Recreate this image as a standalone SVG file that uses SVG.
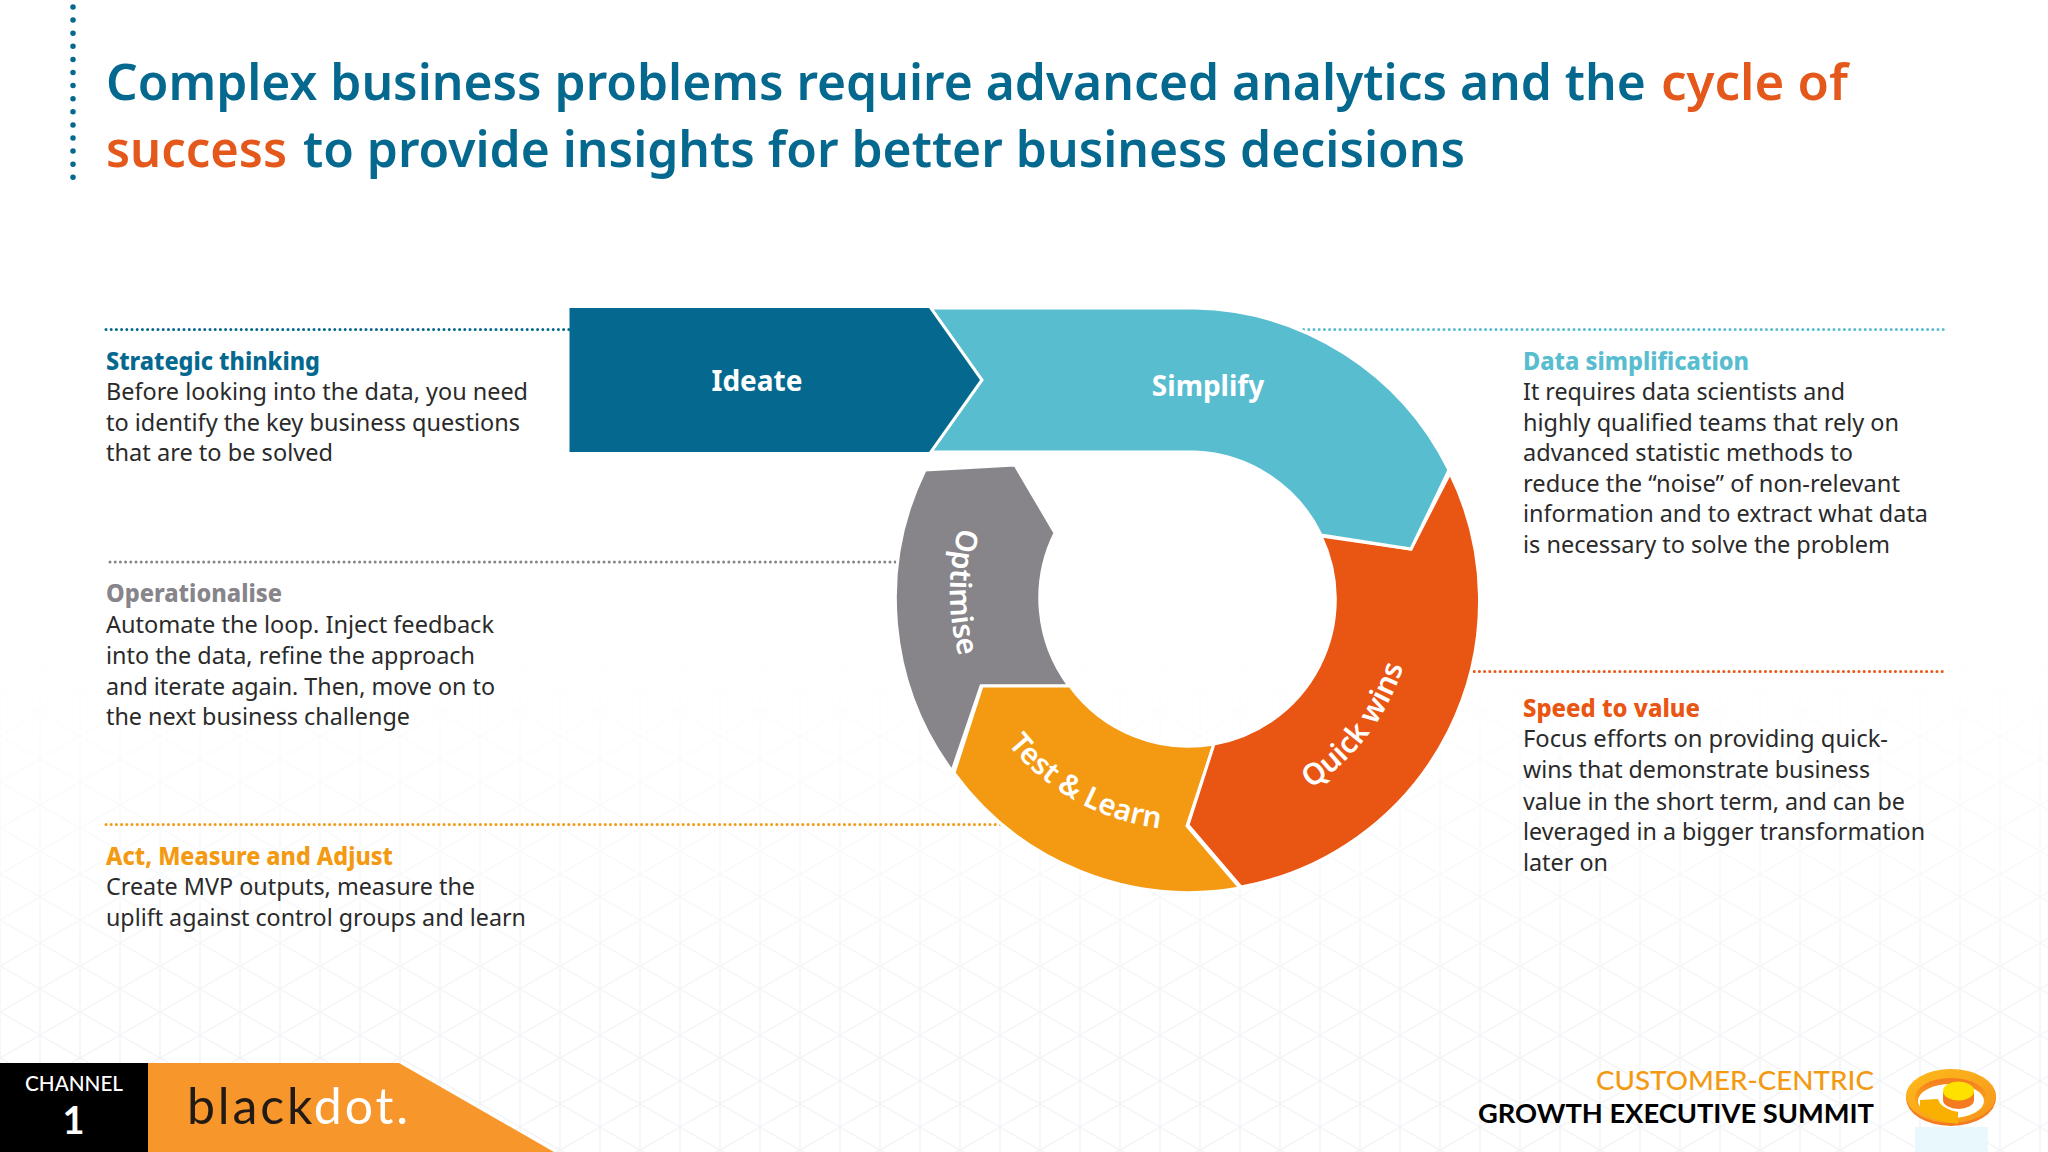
<svg xmlns="http://www.w3.org/2000/svg" xmlns:xlink="http://www.w3.org/1999/xlink" width="2048" height="1152" viewBox="0 0 2048 1152">
<style>
text{font-family:"Noto Sans","Open Sans","Liberation Sans",sans-serif}
.t{font-size:51px;font-weight:600;fill:#05698f}
.o{fill:#e4591b}
.h{font-size:24.500px;font-weight:800}
.b{font-size:24px;fill:#2a2a2a}
.l{font-size:28px;font-weight:700;fill:#fff;text-anchor:middle}
.a{font-size:29.500px;font-weight:600;fill:#fff;text-anchor:middle}
.f{font-family:Lato,"Noto Sans",sans-serif}
.d{fill:none;stroke-width:3;stroke-linecap:round;stroke-dasharray:0 5.2}
.s{stroke:#fff;stroke-width:3;stroke-linejoin:miter}
</style>
<defs>
<pattern id="grid" width="80" height="92" patternUnits="userSpaceOnUse">
<path d="M0 0V92M40 0V92M80 0V92M0 0L80 46M0 46L80 92M0 46L80 0M0 92L80 46" fill="none" stroke="#f2f4f7" stroke-width="1.500"/>
</pattern>
<linearGradient id="fade" x1="0" y1="0" x2="0" y2="1">
<stop offset="0" stop-color="#fff" stop-opacity="1"/>
<stop offset="1" stop-color="#fff" stop-opacity="0"/>
</linearGradient>
<linearGradient id="ringg" x1="0" y1="0" x2="1" y2="1">
<stop offset="0" stop-color="#fdbb1a"/>
<stop offset="1" stop-color="#f7941d"/>
</linearGradient>
<linearGradient id="ring2" x1="0" y1="0" x2="0" y2="1">
<stop offset="0" stop-color="#f47b20"/>
<stop offset="1" stop-color="#fdc010"/>
</linearGradient>
<path id="aOpt" d="M1005.7 439 A238 238 0 0 0 1005.7 745"/>
<path id="aTest" d="M971.4 681.1 A232 232 0 0 0 1232.3 825.7"/>
<path id="aQuick" d="M1236 820 A228 228 0 0 0 1413.700 585.900"/>
</defs>
<rect width="2048" height="1152" fill="#fff"/>
<rect y="620" width="2048" height="532" fill="url(#grid)"/>
<rect y="620" width="2048" height="440" fill="url(#fade)"/>

<g id="connectors">
<line class="d" x1="73" y1="7" x2="73" y2="178" stroke="#05698f" style="stroke-width:5.500;stroke-dasharray:0 13.100"/>
<line class="d" x1="106" y1="329.500" x2="570" y2="329.500" stroke="#05698f"/>
<line class="d" x1="1288" y1="329.500" x2="1945" y2="329.500" stroke="#59bdd0"/>
<line class="d" x1="110" y1="562" x2="896" y2="562" stroke="#87858a"/>
<line class="d" x1="1469" y1="671.500" x2="1945" y2="671.500" stroke="#e95513"/>
<line class="d" x1="106" y1="824.500" x2="1003" y2="824.500" stroke="#f39a12"/>
</g>

<g id="title">
<text class="t" transform="translate(106 100) scale(.9 1)" textLength="1711" lengthAdjust="spacingAndGlyphs">Complex business problems require advanced analytics and the</text>
<text class="t o" x="1661" y="100" textLength="187" lengthAdjust="spacingAndGlyphs">cycle of</text>
<text class="t o" x="106" y="167" textLength="181" lengthAdjust="spacingAndGlyphs">success</text>
<text class="t" x="303" y="167" textLength="1162" lengthAdjust="spacingAndGlyphs">to provide insights for better business decisions</text>
</g>

<g id="node-optimise">
<path class="s" fill="#87858a" d="M925 470 L1015 465 L1055 533 A147 147 0 0 0 1069 686 L981 686 L952 771 A292 292 0 0 1 925 470Z"/>
<text class="a"><textPath xlink:href="#aOpt" href="#aOpt" startOffset="50%">Optimise</textPath></text>
</g>
<g id="node-testlearn">
<path class="s" fill="#f39a12" d="M982 686 L1070 686 A147 147 0 0 0 1214 744 L1187 826 L1240 888 A291 291 0 0 1 954 773Z"/>
<text class="a"><textPath xlink:href="#aTest" href="#aTest" startOffset="50%">Test &amp; Learn</textPath></text>
</g>
<g id="node-quickwins">
<path class="s" fill="#e95513" d="M1450 473 A291 291 0 0 1 1241 887 L1188 825 L1214 744 A147 147 0 0 0 1321 536 L1411 549Z"/>
<text class="a"><textPath xlink:href="#aQuick" href="#aQuick" startOffset="50%">Quick wins</textPath></text>
</g>
<g id="node-simplify">
<path class="s" fill="#59bdd0" d="M931 308 L1195 308 A290 290 0 0 1 1449 470 L1411 549 L1321 535 A146 146 0 0 0 1195 452 L931 452 L982 380Z"/>
<text class="l" x="1208" y="396">Simplify</text>
</g>
<g id="node-ideate">
<path fill="#05698f" d="M569.500 308 L929 308 L980 380 L929 452 L569.500 452Z"/>
<text class="l" x="757" y="391">Ideate</text>
</g>

<g id="text-strategic">
<text class="h" fill="#05698f" x="106" y="370" textLength="214" lengthAdjust="spacingAndGlyphs">Strategic thinking</text>
<text class="b" x="106" y="400" textLength="422" lengthAdjust="spacingAndGlyphs">Before looking into the data, you need</text>
<text class="b" x="106" y="431" textLength="414" lengthAdjust="spacingAndGlyphs">to identify the key business questions</text>
<text class="b" x="106" y="461" textLength="227" lengthAdjust="spacingAndGlyphs">that are to be solved</text>
</g>
<g id="text-operationalise">
<text class="h" fill="#87858a" x="106" y="602" textLength="176" lengthAdjust="spacingAndGlyphs">Operationalise</text>
<text class="b" x="106" y="633" textLength="388" lengthAdjust="spacingAndGlyphs">Automate the loop. Inject feedback</text>
<text class="b" x="106" y="664" textLength="369" lengthAdjust="spacingAndGlyphs">into the data, refine the approach</text>
<text class="b" x="106" y="695" textLength="389" lengthAdjust="spacingAndGlyphs">and iterate again. Then, move on to</text>
<text class="b" x="106" y="725" textLength="304" lengthAdjust="spacingAndGlyphs">the next business challenge</text>
</g>
<g id="text-act">
<text class="h" fill="#f39a12" x="106" y="865" textLength="287" lengthAdjust="spacingAndGlyphs">Act, Measure and Adjust</text>
<text class="b" x="106" y="895" textLength="369" lengthAdjust="spacingAndGlyphs">Create MVP outputs, measure the</text>
<text class="b" x="106" y="926" textLength="420" lengthAdjust="spacingAndGlyphs">uplift against control groups and learn</text>
</g>
<g id="text-data">
<text class="h" fill="#59bdd0" x="1523" y="370" textLength="226" lengthAdjust="spacingAndGlyphs">Data simplification</text>
<text class="b" x="1523" y="400" textLength="322" lengthAdjust="spacingAndGlyphs">It requires data scientists and</text>
<text class="b" x="1523" y="431" textLength="376" lengthAdjust="spacingAndGlyphs">highly qualified teams that rely on</text>
<text class="b" x="1523" y="461" textLength="330" lengthAdjust="spacingAndGlyphs">advanced statistic methods to</text>
<text class="b" x="1523" y="492" textLength="377" lengthAdjust="spacingAndGlyphs">reduce the “noise” of non-relevant</text>
<text class="b" x="1523" y="522" textLength="405" lengthAdjust="spacingAndGlyphs">information and to extract what data</text>
<text class="b" x="1523" y="553" textLength="367" lengthAdjust="spacingAndGlyphs">is necessary to solve the problem</text>
</g>
<g id="text-speed">
<text class="h" fill="#e95513" x="1523" y="717" textLength="177" lengthAdjust="spacingAndGlyphs">Speed to value</text>
<text class="b" x="1523" y="747" textLength="365" lengthAdjust="spacingAndGlyphs">Focus efforts on providing quick-</text>
<text class="b" x="1523" y="778" textLength="347" lengthAdjust="spacingAndGlyphs">wins that demonstrate business</text>
<text class="b" x="1523" y="810" textLength="382" lengthAdjust="spacingAndGlyphs">value in the short term, and can be</text>
<text class="b" x="1523" y="840" textLength="402" lengthAdjust="spacingAndGlyphs">leveraged in a bigger transformation</text>
<text class="b" x="1523" y="871" textLength="85" lengthAdjust="spacingAndGlyphs">later on</text>
</g>

<g id="footer-left">
<rect x="0" y="1063" width="148" height="89" fill="#000"/>
<path d="M148 1063 L399 1063 L554 1152 L148 1152Z" fill="#f7962b"/>
<text class="f" x="25" y="1091" font-size="21" font-weight="500" fill="#fff" textLength="98" lengthAdjust="spacingAndGlyphs">CHANNEL</text>
<text class="f" x="73.500" y="1134" font-size="38" font-weight="700" fill="#fff" text-anchor="middle">1</text>
<text class="f" x="187" y="1124" font-size="50" fill="#221a14" textLength="221" lengthAdjust="spacing">black<tspan fill="#fff">dot.</tspan></text>
</g>

<g id="footer-right">
<text class="f" x="1596" y="1090" font-size="27" font-weight="500" fill="#f39a12" textLength="278" lengthAdjust="spacingAndGlyphs">CUSTOMER-CENTRIC</text>
<text class="f" x="1478" y="1123" font-size="27" font-weight="700" fill="#000" textLength="396" lengthAdjust="spacingAndGlyphs">GROWTH EXECUTIVE SUMMIT</text>
<rect x="1915" y="1127" width="73" height="25" fill="#e9f8fc"/>
<ellipse cx="1951" cy="1098" rx="45" ry="28" fill="#f47b20"/>
<ellipse cx="1951" cy="1096" rx="45" ry="27" fill="url(#ringg)"/>
<ellipse cx="1951" cy="1098" rx="36" ry="20" fill="url(#ring2)"/>
<ellipse cx="1951" cy="1101" rx="33" ry="17" fill="#fff"/>
<path d="M1920 1100 L1938 1099 Q1940 1108 1958 1112 L1958 1124 Q1934 1122 1920 1110Z" fill="#f9b000"/>
<path d="M1943 1092 v8 a15.500 9 0 0 0 31 0 v-8Z" fill="#f47b20"/>
<ellipse cx="1958.500" cy="1091" rx="15.500" ry="9.500" fill="#ffe100"/>
</g>
</svg>
